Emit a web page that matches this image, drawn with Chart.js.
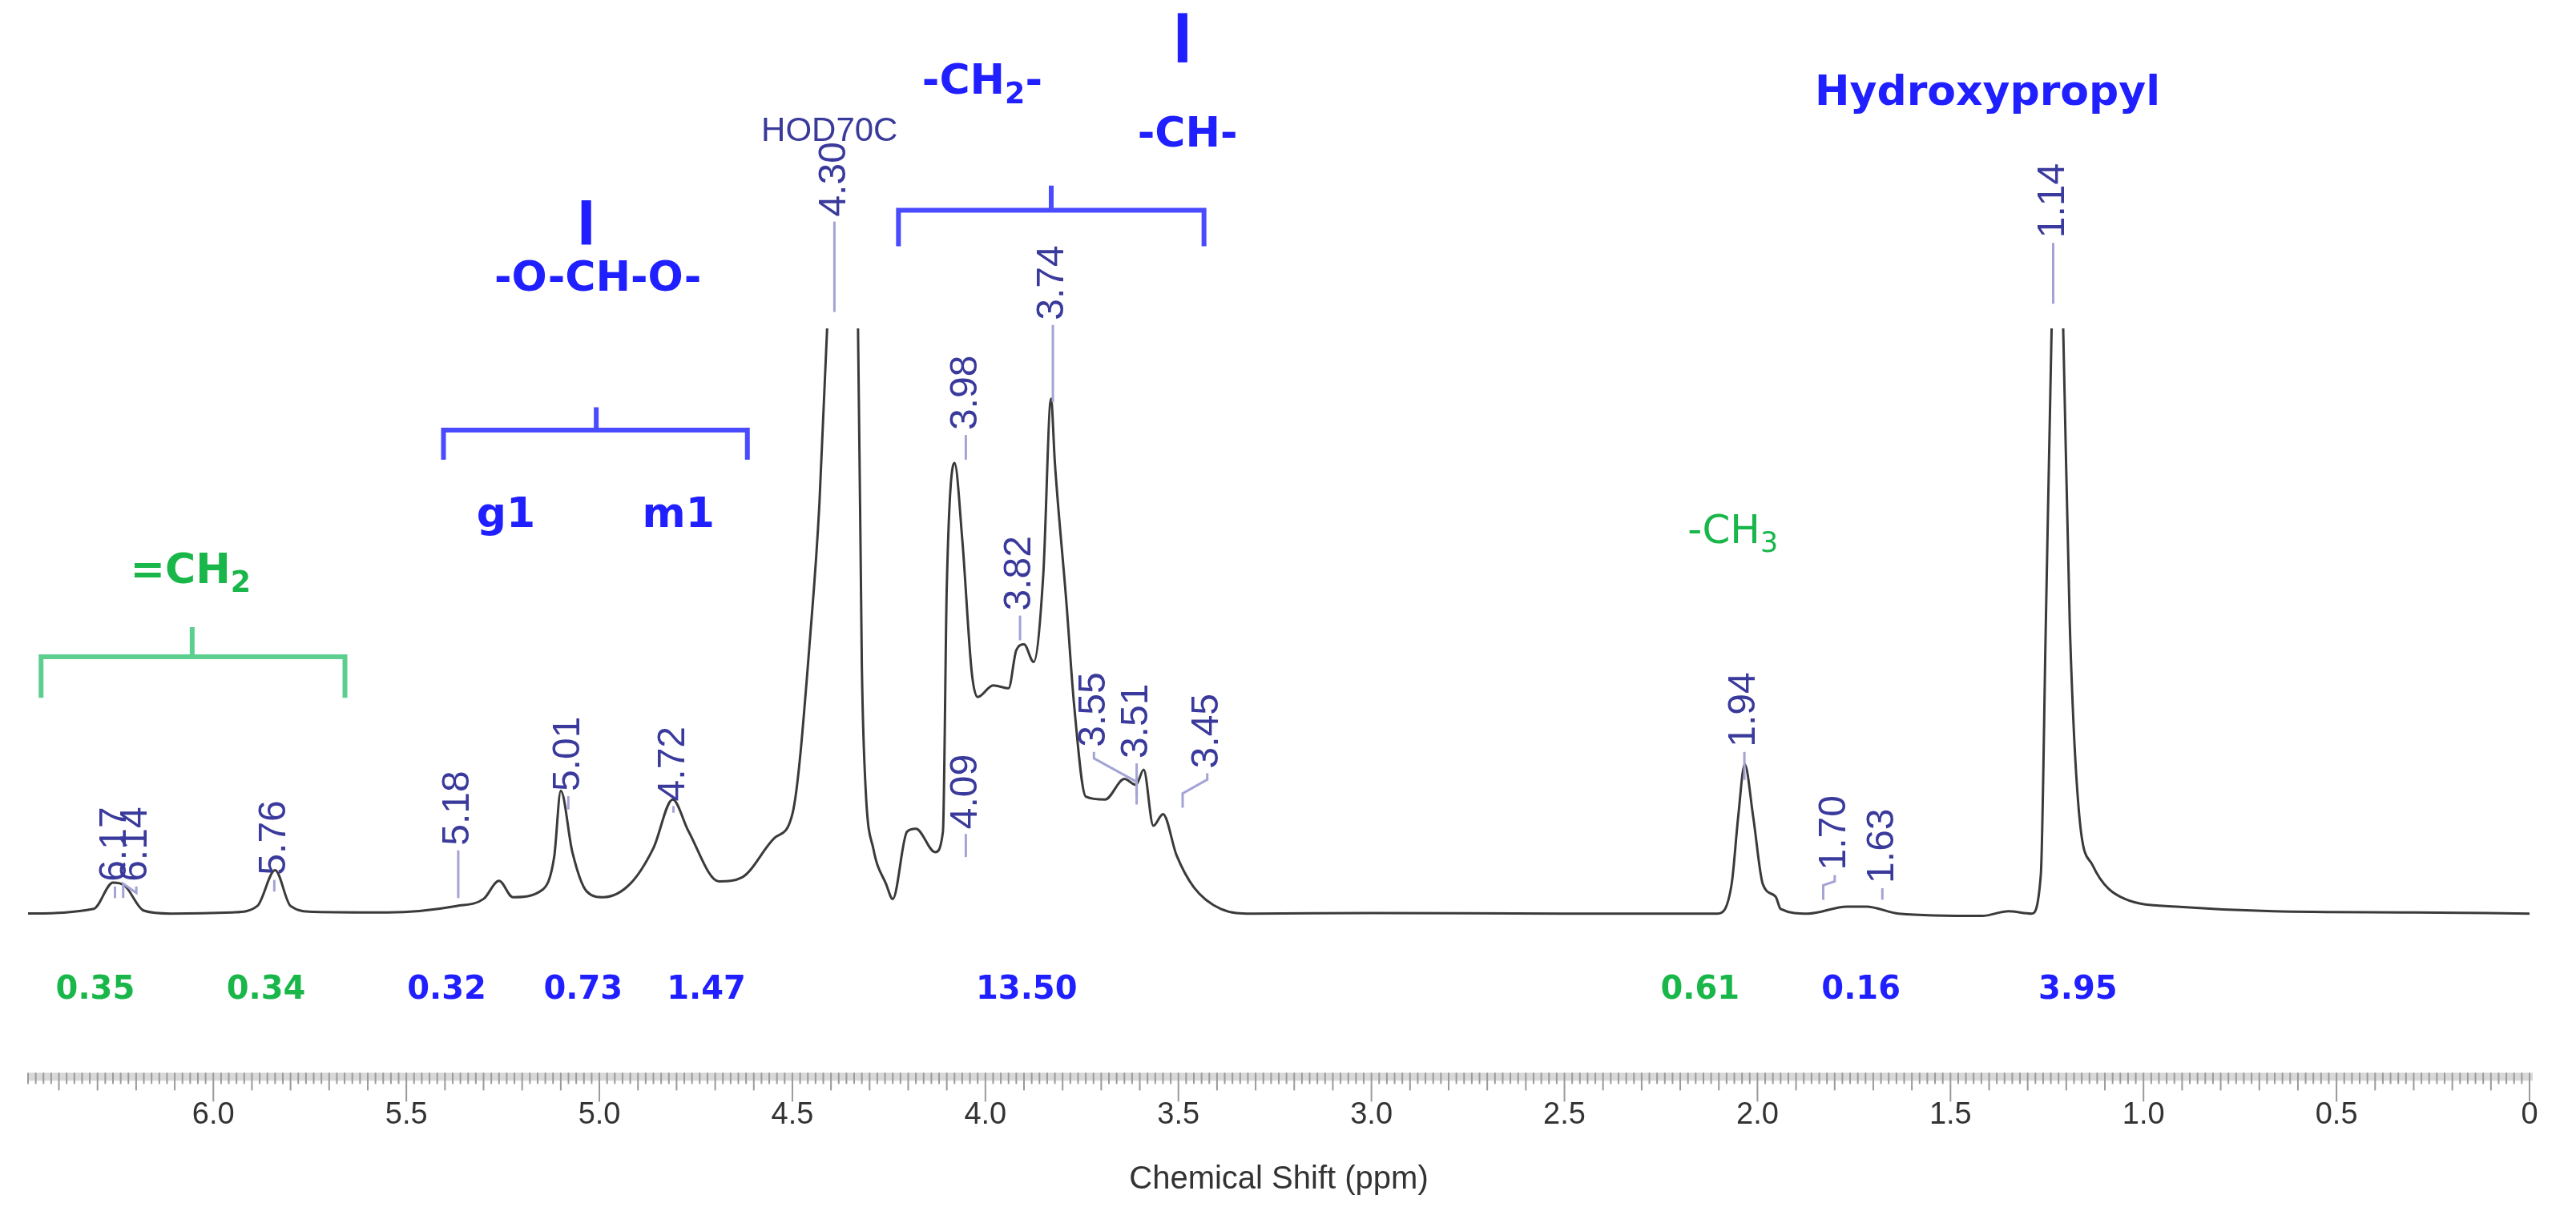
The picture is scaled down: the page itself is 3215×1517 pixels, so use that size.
<!DOCTYPE html>
<html>
<head>
<title>1H NMR spectrum</title>
<script src="https://cdn.jsdelivr.net/npm/chart.js"></script>
<style>
  body { margin: 0; background: #fff; }
  #wrap { width: 3215px; height: 1517px; }
</style>
</head>
<body>
<div id="wrap"><canvas id="nmr" width="3215" height="1517"></canvas></div>

<script>
// chemical shift (ppm) and intensity
const shifts = [6.49, 6.31, 6.26, 6.23, 6.18, 6.11, 5.95, 5.886, 5.84, 5.80, 5.74, 5.55, 5.37, 5.30, 5.26, 5.224,
  5.147, 5.117, 5.10, 5.07, 5.033, 4.99, 4.92, 4.86, 4.81, 4.77, 4.69, 4.63, 4.545, 4.50, 4.45, 4.43, 4.41, 4.37,
  4.33, 4.32, 4.31, 4.29, 4.257, 4.24, 4.203, 4.18, 4.13, 4.11, 4.10, 4.08, 4.06, 4.035, 4.02, 3.98, 3.94, 3.92,
  3.90, 3.875, 3.85, 3.83, 3.82, 3.79, 3.77, 3.74, 3.69, 3.64, 3.61, 3.59, 3.565, 3.54, 3.505, 3.46, 3.39, 3.31,
  3.0, 2.505, 2.103, 2.067, 2.05, 2.033, 2.011, 1.986, 1.953, 1.94, 1.869, 1.768, 1.718, 1.634, 1.418, 1.35, 1.29,
  1.266, 1.253, 1.238, 1.223, 1.208, 1.191, 1.166, 1.132, 1.048, 0.915, 0.663, 0.30, 0.0];
const intensity = [0, 0.8, 5.3, 4.8, 0.5, 0, 0.2, 1.3, 7.4, 1.3, 0.3, 0.2, 1.3, 2.5, 5.6, 2.8,
  4.1, 9.7, 21, 10.5, 3.8, 2.8, 5.1, 11.2, 19.5, 14.2, 5.5, 6.2, 13, 17, 50.6, 70, 100, 140,
  100, 42, 21, 11, 5, 2.5, 14, 14.5, 10.5, 14, 56, 77, 64, 41, 37, 39, 38.5, 45,
  46, 43, 58, 88, 77, 53, 35.5, 20, 19.5, 23, 22, 24.6, 15, 17, 10, 4.5, 0.8, 0,
  0.1, 0, 0, 5, 16.5, 25.5, 16.5, 5, 2.9, 0.8, 0, 1.2, 1.2, 0, -0.4, 0.4, 0,
  6.6, 49.6, 100, 140, 100, 49.6, 16.5, 8.3, 2.5, 1.2, 0.4, 0.2, 0];
const xTicks = [6.0, 5.5, 5.0, 4.5, 4.0, 3.5, 3.0, 2.5, 2.0, 1.5, 1.0, 0.5, 0];

// peak picks: label, x of label (px in reference image / 2.05), text bottom, leader end, x of peak end
const peakLabels = ['6.17', '6.14', '5.76', '5.18', '5.01', '4.72', '4.30', '4.09', '3.98', '3.82', '3.74', '3.55', '3.51', '3.45', '1.94', '1.70', '1.63', '1.14'];
const peakX =      [70, 83, 167, 279, 346, 410, 508, 588, 588, 621, 641, 666, 692, 735, 1062, 1117, 1146, 1250];
const peakBottom = [537, 537, 533, 515, 482, 488, 132, 505, 262, 372, 195, 455, 462, 468, 455, 530, 538, 145];
const peakEnd =    [547, 547, 543, 547, 493, 495, 190, 522, 280, 390, 245, 485, 490, 492, 475, 548, 548, 185];
const peakEndX =   [70, 75, 167, 279, 346, 410, 508, 588, 588, 621, 641, 692, 692, 720, 1062, 1110, 1146, 1250];

// integrals
const integrals = ['0.35', '0.34', '0.32', '0.73', '1.47', '13.50', '0.61', '0.16', '3.95'];
const integralX = [58, 162, 272, 355, 430, 625, 1035, 1133, 1265];
const integralGreen = [true, true, false, false, false, false, true, false, false];

const S = 2.05;
const BLUE = '#1f1fff', GREEN = '#19b64a', NAVY = '#3a3a9c';

const annotations = {
  id: 'annotations',
  afterDraw(chart) {
    const ctx = chart.ctx;
    const x = chart.scales.x, area = chart.chartArea;
    ctx.save();

    // ruler
    ctx.fillStyle = '#d8d8d8';
    ctx.fillRect(area.left, area.bottom, area.right - area.left + 4, 10);
    ctx.strokeStyle = '#9a9a9a';
    ctx.lineWidth = 2;
    for (let i = 0; i <= 324; i++) {
      const v = i * 0.02;
      if (v > x.max) break;
      const px = x.getPixelForValue(v);
      let len = 14;
      if (i % 25 === 0) len = 36; else if (i % 5 === 0) len = 22;
      ctx.beginPath(); ctx.moveTo(px, area.bottom); ctx.lineTo(px, area.bottom + len); ctx.stroke();
    }

    // peak labels
    ctx.font = '48px "Liberation Sans", Arial, sans-serif';
    for (let i = 0; i < peakLabels.length; i++) {
      const tx = peakX[i] * S, tb = peakBottom[i] * S, te = peakEnd[i] * S, ex = peakEndX[i] * S;
      ctx.strokeStyle = '#a3a3d6';
      ctx.lineWidth = 3;
      ctx.beginPath();
      ctx.moveTo(tx, tb + 6);
      if (Math.abs(ex - tx) > 2) {
        ctx.lineTo(tx, tb + 14);
        ctx.lineTo(ex, te - 18);
      }
      ctx.lineTo(ex, te);
      ctx.stroke();
      ctx.save();
      ctx.translate(tx, tb);
      ctx.rotate(-Math.PI / 2);
      ctx.fillStyle = NAVY;
      ctx.textAlign = 'left';
      ctx.textBaseline = 'middle';
      ctx.fillText(peakLabels[i], 0, 0);
      ctx.restore();
    }
    ctx.fillStyle = NAVY;
    ctx.textAlign = 'center';
    ctx.textBaseline = 'middle';
    ctx.font = '42px "Liberation Sans", Arial, sans-serif';
    ctx.fillText('HOD70C', 505 * S, 80 * S);

    // integrals
    ctx.font = 'bold 40px "DejaVu Sans", sans-serif';
    integrals.forEach((t, i) => {
      ctx.fillStyle = integralGreen[i] ? GREEN : BLUE;
      ctx.fillText(t, integralX[i] * S, 603 * S);
    });

    // brackets
    function bracket(x1, x2, y, drop, nx, up, color) {
      ctx.strokeStyle = color;
      ctx.lineWidth = 6;
      ctx.beginPath();
      ctx.moveTo(x1 * S, (y + drop) * S); ctx.lineTo(x1 * S, y * S);
      ctx.lineTo(x2 * S, y * S); ctx.lineTo(x2 * S, (y + drop) * S);
      ctx.moveTo(nx * S, y * S); ctx.lineTo(nx * S, (y - up) * S);
      ctx.stroke();
    }
    bracket(25, 210, 400, 25, 117, 18, '#5ccf8f');
    bracket(270, 455, 262, 18, 363, 14, '#4a4aff');
    bracket(547, 733, 128, 22, 640, 15, '#4a4aff');

    // group labels with subscripts
    function chem(parts, cx, cy, size, color, weight) {
      ctx.fillStyle = color;
      ctx.textBaseline = 'alphabetic';
      ctx.textAlign = 'left';
      let w = 0;
      parts.forEach(p => {
        ctx.font = weight + ' ' + (p.sub ? size * 0.7 : size) + 'px "DejaVu Sans", sans-serif';
        w += ctx.measureText(p.t).width;
      });
      let px = cx * S - w / 2;
      const base = cy * S + size * 0.36;
      parts.forEach(p => {
        ctx.font = weight + ' ' + (p.sub ? size * 0.7 : size) + 'px "DejaVu Sans", sans-serif';
        ctx.fillText(p.t, px, p.sub ? base + size * 0.22 : base);
        px += ctx.measureText(p.t).width;
      });
    }
    chem([{ t: '=CH' }, { t: '2', sub: true }], 116, 346, 52, GREEN, 'bold');
    chem([{ t: 'g1' }], 308, 312, 52, BLUE, 'bold');
    chem([{ t: 'm1' }], 413, 312, 52, BLUE, 'bold');
    chem([{ t: '-O-CH-O-' }], 364, 168, 52, BLUE, 'bold');
    chem([{ t: '-CH' }, { t: '2', sub: true }, { t: '-' }], 598, 48, 52, BLUE, 'bold');
    chem([{ t: '-CH-' }], 723, 80, 52, BLUE, 'bold');
    chem([{ t: 'Hydroxypropyl' }], 1210, 55, 52, BLUE, 'bold');
    chem([{ t: '-CH' }, { t: '3', sub: true }], 1055, 322, 50, GREEN, 'normal');
    ctx.fillStyle = BLUE;
    ctx.fillRect(354 * S, 122 * S, 12, 27 * S);
    ctx.fillRect(717 * S, 8 * S, 12, 30 * S);

    ctx.restore();
  }
};

new Chart(document.getElementById('nmr'), {
  type: 'line',
  data: {
    datasets: [{
      data: shifts.map((s, i) => ({ x: s, y: intensity[i] })),
      borderColor: '#3a3a3a',
      borderWidth: 3,
      pointRadius: 0,
      cubicInterpolationMode: 'monotone',
      fill: false
    }]
  },
  options: {
    responsive: false,
    animation: false,
    devicePixelRatio: 1,
    layout: { padding: { left: 35, right: 58, top: 410, bottom: 20 } },
    plugins: { legend: { display: false }, tooltip: { enabled: false } },
    scales: {
      x: {
        type: 'linear',
        reverse: true,
        min: 0,
        max: 6.48,
        grid: { display: false },
        border: { display: false },
        afterBuildTicks: scale => { scale.ticks = xTicks.map(v => ({ value: v })); },
        ticks: {
          padding: 22,
          maxRotation: 0,
          autoSkip: false,
          color: '#333',
          font: { family: '"Liberation Sans Narrow", "Liberation Sans", sans-serif', size: 38 },
          callback: v => (v === 0 ? '0' : v.toFixed(1))
        },
        title: {
          display: true,
          text: 'Chemical Shift (ppm)',
          color: '#333',
          font: { family: '"Liberation Sans", Arial, sans-serif', size: 40 },
          padding: { top: 12, bottom: 0 }
        }
      },
      y: { display: false, min: -27.2, max: 100 }
    }
  },
  plugins: [annotations]
});
</script>
</body>
</html>
